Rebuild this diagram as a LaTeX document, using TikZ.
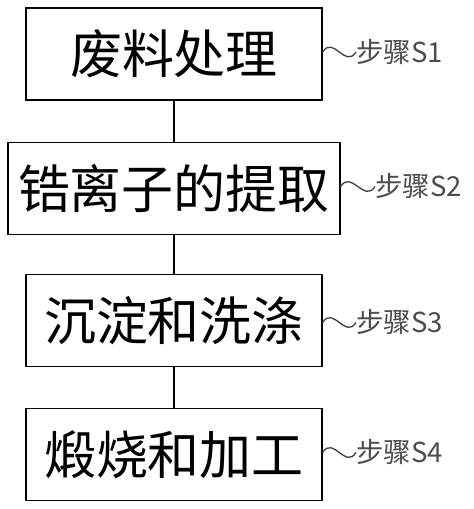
\documentclass[tikz,border=0pt]{standalone}
\usepackage{fontspec}
\newfontfamily\cjk{Noto Sans CJK SC}
\usetikzlibrary{calc}
\newcommand{\boxfont}{\cjk\fontsize{52}{58}\selectfont}
\newcommand{\stepfont}{\cjk\fontsize{27.5}{31}\selectfont}

\begin{document}
\begin{tikzpicture}[%
    x=1pt, y=-1pt,%
    stepbox/.style={draw, line width=1.2pt, minimum height=92pt, inner sep=0pt, font=\boxfont},%
    steplabel/.style={anchor=west, inner sep=0pt, text=black!70, font=\stepfont},%
    tilde/.style={line width=1.3pt, black!75}%
    ]
    % Cadre
    \useasboundingbox (0,0) rectangle (474,509);

    %
    % Définitions
    %
    \pgfmathsetmacro{\xm}{174};%
    \pgfmathsetmacro{\xs}{356};%
    \pgfmathsetmacro{\ya}{54};%
    \pgfmathsetmacro{\yb}{188.5};%
    \pgfmathsetmacro{\yc}{320.5};%
    \pgfmathsetmacro{\yd}{454.5};%

    % Étapes
    \node[stepbox, minimum width=296pt] (b1) at (\xm,\ya) {废料处理};
    \node[stepbox, minimum width=332pt] (b2) at (\xm,\yb) {锆离子的提取};
    \node[stepbox, minimum width=296pt] (b3) at (\xm,\yc) {沉淀和洗涤};
    \node[stepbox, minimum width=296pt] (b4) at (\xm,\yd) {煅烧和加工};

    % Repères
    \node[steplabel] (l1) at (\xs,\ya-2) {步骤S1};
    \node[steplabel] (l2) at (\xs+19,\yb-2) {步骤S2};
    \node[steplabel] (l3) at (\xs,\yc+2) {步骤S3};
    \node[steplabel] (l4) at (\xs,\yd-2) {步骤S4};

    % Liaisons
    \draw[line width=1.2pt] (b1) -- (b2);
    \draw[line width=1.2pt] (b2) -- (b3);
    \draw[line width=1.2pt] (b3) -- (b4);

    % Tildes
    \draw[tilde] (b1.east |- l1.west) .. controls +(11,-17) and +(-11,17) .. (l1.west);
    \draw[tilde] (b2.east |- l2.west) .. controls +(11,-17) and +(-11,17) .. (l2.west);
    \draw[tilde] (b3.east |- l3.west) .. controls +(11,-17) and +(-11,17) .. (l3.west);
    \draw[tilde] (b4.east |- l4.west) .. controls +(11,-17) and +(-11,17) .. (l4.west);

\end{tikzpicture}
\end{document}
